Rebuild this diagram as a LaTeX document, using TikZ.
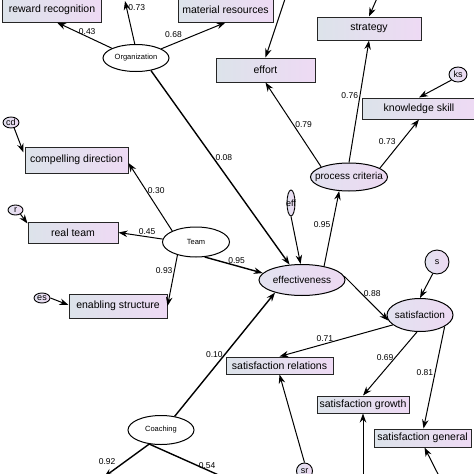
\documentclass[tikz,border=0pt]{standalone}
\usepackage{fontspec}
\setmainfont{Liberation Sans}
\usetikzlibrary{arrows.meta,shapes.geometric}
\definecolor{boxl}{HTML}{DCE3EA}
\definecolor{boxr}{HTML}{EEDAF4}
\definecolor{elll}{HTML}{E2E2F0}
\definecolor{ellr}{HTML}{EDD9F2}

\begin{document}
\begin{tikzpicture}[x=1pt, y=-1pt, >={Stealth[length=9pt,width=6.5pt]},
  box/.style={draw=black!85, line width=1pt, left color=boxl, right color=boxr, inner sep=0pt, font=\fontsize{10.5}{12}\selectfont},
  latent/.style={ellipse, draw, line width=1pt, fill=white, inner sep=0pt, font=\fontsize{7.5}{9}\selectfont},
  factor/.style={ellipse, draw, line width=1pt, left color=elll, right color=ellr, inner sep=0pt, font=\fontsize{10}{12}\selectfont},
  err/.style={ellipse, draw, line width=0.9pt, left color=elll, right color=ellr, inner sep=0pt, font=\fontsize{9}{10}\selectfont},
  link/.style={->, line width=1pt},
  lbl/.style={font=\fontsize{8.5}{10}\selectfont, inner sep=1.5pt}]

  \useasboundingbox (0,0) rectangle (474,474);
  \clip (0,0) rectangle (474,474);

  % Latent variables
  \node[latent, minimum width=66pt, minimum height=27pt] (org) at (136,58) {\makebox[0pt]{Organization}};
  \node[latent, minimum width=67pt, minimum height=30pt] (team) at (196,242) {\makebox[0pt]{Team}};
  \node[latent, minimum width=66pt, minimum height=29pt] (coach) at (161,430) {\makebox[0pt]{Coaching}};
  \node[factor, minimum width=86pt, minimum height=31pt] (eness) at (302,280) {\makebox[0pt]{effectiveness}};
  \node[factor, minimum width=66pt, minimum height=33pt] (sat) at (420,315) {\makebox[0pt]{satisfaction}};
  \node[factor, minimum width=77pt, minimum height=28pt] (pc) at (349,177) {\makebox[0pt]{process criteria}};

  % Observed variables
  \node[box, minimum width=99pt, minimum height=24pt] (rr) at (52,10) {reward recognition};
  \node[box, minimum width=95pt, minimum height=24pt] (mr) at (225.5,10) {material resources};
  \node[box, minimum width=104pt, minimum height=23pt] (strat) at (369,28.5) {strategy};
  \node[box, minimum width=99pt, minimum height=24pt] (effort) at (265.5,70) {effort};
  \node[box, minimum width=114pt, minimum height=21pt] (ks) at (419,108.5) {knowledge skill};
  \node[box, minimum width=103pt, minimum height=26pt] (cdir) at (76.5,160) {compelling direction};
  \node[box, minimum width=90pt, minimum height=21pt] (rt) at (73,232.5) {real team};
  \node[box, minimum width=98pt, minimum height=24pt] (esb) at (118,306) {enabling structure};
  \node[box, minimum width=107pt, minimum height=17pt] (srel) at (279.5,365.5) {satisfaction relations};
  \node[box, minimum width=92pt, minimum height=17pt] (sgro) at (363,404.5) {satisfaction growth};
  \node[box, minimum width=97pt, minimum height=18pt] (sgen) at (422.5,438) {satisfaction general};

  % Error terms
  \node[err, minimum width=18pt, minimum height=15pt] (ksc) at (458,74.5) {\makebox[0pt]{ks}};
  \node[err, minimum width=16pt, minimum height=11pt] (cdc) at (11,122.5) {\makebox[0pt]{cd}};
  \node[err, minimum width=15pt, minimum height=10pt] (rc) at (15.5,210) {\makebox[0pt]{r}};
  \node[err, minimum width=16pt, minimum height=10pt] (esc) at (42,298) {\makebox[0pt]{es}};
  \node[err, minimum width=8pt, minimum height=26pt] (effc) at (291,203) {\makebox[0pt]{eff}};
  \node[err, minimum width=24pt, minimum height=24pt] (sc) at (437,262) {\makebox[0pt]{s}};
  \node[err, minimum width=16pt, minimum height=16pt] (src) at (304.5,471) {\makebox[0pt]{sr}};

  % Loose ends at the border
  \coordinate (topo) at (125,1);
  \coordinate (tope) at (286,-4);
  \coordinate (tops) at (378,-4);
  \coordinate (botg) at (363,480);
  \coordinate (botn) at (441,480);
  \coordinate (botl) at (104,477);
  \coordinate (botr) at (232,481);

  % Paths
  \draw[link] (org.158) -- node[lbl, above, pos=0.45] {0.43} ([xshift=5pt]rr.south);
  \draw[link] (org.95) -- node[lbl, right, pos=0.85] {0.73} (topo);
  \draw[link] (org.20) -- node[lbl, above left, pos=0.35] {0.68} (mr.south);
  \draw[link] (tope) -- (effort.north);
  \draw[link] (tops) -- (strat.north);
  \draw[link] (pc.160) -- node[lbl, right, pos=0.5] {0.79} (effort.south);
  \draw[link] (pc.north) -- node[lbl, left, pos=0.55] {0.76} (strat.south);
  \draw[link] (pc.16) -- node[lbl, above left, pos=0.45] {0.73} (ks.south);
  \draw[link] (ksc.220) -- (ks.north);
  \draw[link, line width=1.4pt] (org.-40) -- node[lbl, right, pos=0.45] {0.08} (eness.129);
  \draw[link] (cdc.-60) -- ([xshift=-1pt,yshift=-6pt]cdir.north west);
  \draw[link] (team.155) -- node[lbl, right, pos=0.6] {0.30} ([yshift=-3pt]cdir.east);
  \draw[link] (team.175) -- node[lbl, above, pos=0.35] {0.45} (rt.east);
  \draw[link] (team.-145) -- node[lbl, left, pos=0.3] {0.93} (esb.east);
  \draw[link] (esc.east) -- ([yshift=1pt]esb.west);
  \draw[link] (rc.-40) -- ([yshift=-2pt]rt.north west);
  \draw[link, line width=1.4pt] (team.-60) -- node[lbl, above, pos=0.55] {0.95} (eness.170);
  \draw[link] (effc.south) -- (eness.95);
  \draw[link] (eness.32) -- node[lbl, left, pos=0.55] {0.95} (pc.-125);
  \draw[link] (eness.5) -- node[lbl, right, pos=0.4] {0.88} (sat.190);
  \draw[link] (sc.-110) -- (sat.north);
  \draw[link, line width=1.4pt] (coach.45) -- node[lbl, left, pos=0.5] {0.10} (eness.-155);
  \draw[link] (sat.200) -- node[lbl, above, pos=0.6] {0.71} (srel.north);
  \draw[link] (sat.-100) -- node[lbl, left, pos=0.4] {0.69} (sgro.north);
  \draw[link] (sat.-25) -- node[lbl, left, pos=0.45] {0.81} ([xshift=1pt]sgen.north);
  \draw[link] (src.north) -- (srel.south);
  \draw[link] (botg) -- (sgro.south);
  \draw[link] (botn) -- ([xshift=2pt]sgen.south);
  \draw[link, line width=1.4pt] (coach.-130) -- node[lbl, above left, pos=0.7] {0.92} (botl);
  \draw[line width=1.4pt] (coach.-130) -- node[lbl, above, pos=0.7, inner sep=0.5pt] {0.54} (botr);

\end{tikzpicture}
\end{document}
